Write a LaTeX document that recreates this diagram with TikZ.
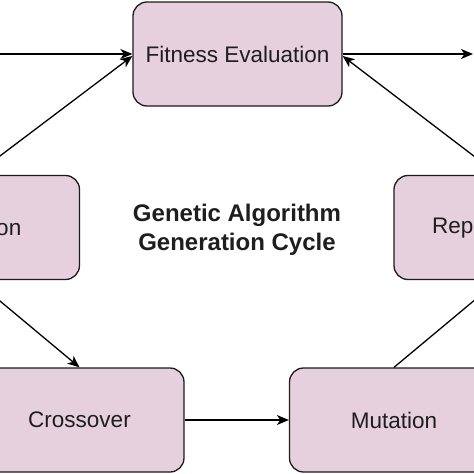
\documentclass[tikz,border=0pt]{standalone}
\usepackage{fontspec}
\setmainfont{Liberation Sans}
\usetikzlibrary{arrows.meta}
\definecolor{boxfill}{HTML}{E6D0DE}
\definecolor{boxline}{HTML}{1C1C1C}
\definecolor{txt}{HTML}{1E1E1E}
\tikzset{
  gabox/.style={draw=boxline, fill=boxfill, line width=1.3pt, rounded corners=14pt,
    minimum width=209pt, minimum height=104pt, inner sep=0pt, text=txt,
    font=\fontsize{22.5}{27}\selectfont},
  conn/.style={draw=black, line width=1.3pt,
    -{Stealth[length=12pt,width=10pt,inset=3.5pt]}},
  title/.style={align=center, text=txt, font=\bfseries\fontsize{24}{29}\selectfont}
}
\begin{document}
\begin{tikzpicture}[x=1pt,y=-1pt]
\useasboundingbox (0,0) rectangle (474,474);
\clip (0,0) rectangle (474,474);
\node[gabox] (fit) at (237.5,54) {Fitness Evaluation};
\node[gabox] (sel) at (-25,227.5) {Selection};
\node[gabox] (rep) at (498.5,227.5) {Replacement};
\node[gabox] (cro) at (79.5,420) {Crossover};
\node[gabox] (mut) at (394,420) {Mutation};
\node[title] (ttl) at (237,230) {Genetic Algorithm\\Generation Cycle};
\coordinate (inl) at (-80,54);
\coordinate (outr) at (473,54);
\draw[conn] (inl) -- (fit.west);
\draw[conn] (fit.east) -- (outr);
\draw[conn] (sel.north) -- ([yshift=-2pt]fit.west);
\draw[conn] (rep.north) -- ([yshift=-2pt]fit.east);
\draw[conn] (sel.south) -- (cro.north);
\draw[conn] (cro.east) -- (mut.west);
\draw[conn] (mut.north) -- (rep.south);
\end{tikzpicture}
\end{document}
